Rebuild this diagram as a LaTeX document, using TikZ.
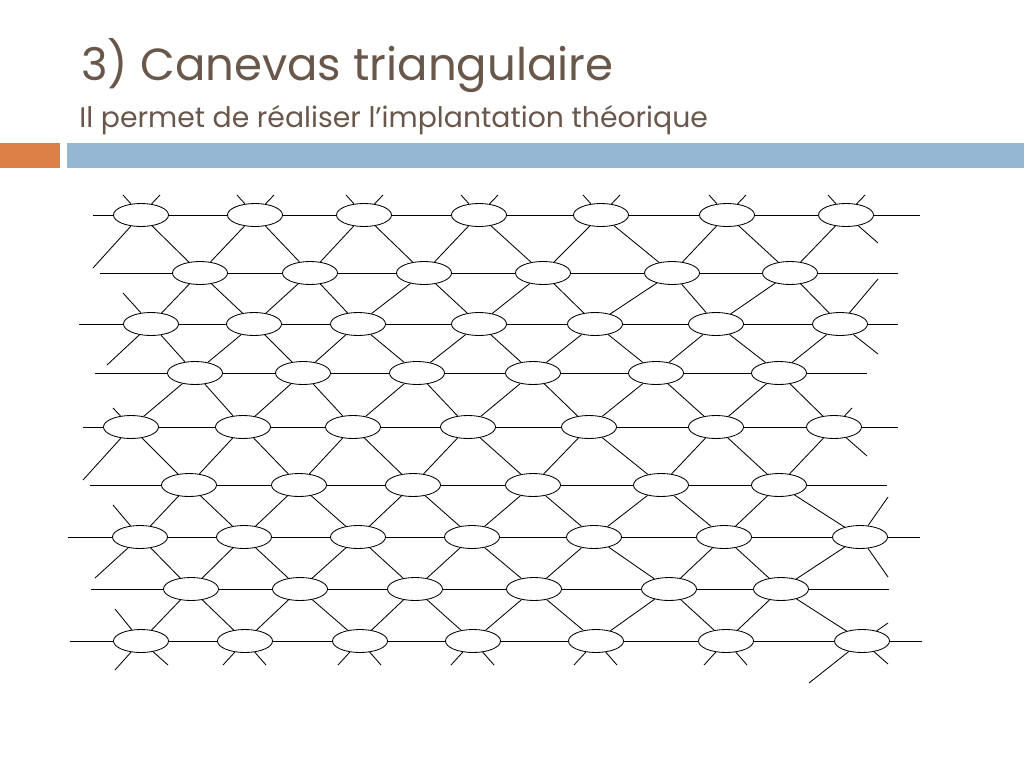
\documentclass[tikz,border=0pt]{standalone}
\usepackage{fontspec}
\setmainfont{Poppins}
\usepackage{tikz}
\usetikzlibrary{shapes}
\definecolor{titlebrown}{RGB}{105,87,75}
\definecolor{barorange}{RGB}{221,128,71}
\definecolor{barblue}{RGB}{148,182,210}

\begin{document}
\begin{tikzpicture}[x=1pt, y=-1pt, line width=0.85pt, main node/.style={ellipse, draw, fill=white, minimum width=55pt, minimum height=23pt, inner sep=0pt}]
\useasboundingbox (0,0) rectangle (1024,768);
% titre
\node[anchor=base west, inner sep=0pt, text=titlebrown, font=\fontsize{45}{50}\selectfont] (title) at (81,80) {3) Canevas triangulaire};
\node[anchor=base west, inner sep=0pt, text=titlebrown, font=\fontsize{28.3}{32}\selectfont] (subtitle) at (79,127) {Il permet de réaliser l’implantation théorique};
\fill[barorange] (0,143) rectangle (60,168);
\fill[barblue] (67,143) rectangle (1024,168);
% ligne 1
\node[main node] (11) at (141,215) {};
\node[main node] (12) at (255,215) {};
\node[main node] (13) at (364,215) {};
\node[main node] (14) at (479,215) {};
\node[main node] (15) at (601,215) {};
\node[main node] (16) at (727,215) {};
\node[main node] (17) at (846,215) {};
% ligne 2
\node[main node] (21) at (200,273) {};
\node[main node] (22) at (310,273) {};
\node[main node] (23) at (424,273) {};
\node[main node] (24) at (543,273) {};
\node[main node] (25) at (672,273) {};
\node[main node] (26) at (790,273) {};
% ligne 3
\node[main node] (31) at (151,324) {};
\node[main node] (32) at (254,324) {};
\node[main node] (33) at (358,324) {};
\node[main node] (34) at (479,324) {};
\node[main node] (35) at (595,324) {};
\node[main node] (36) at (716,324) {};
\node[main node] (37) at (840,324) {};
% ligne 4
\node[main node] (41) at (195,373) {};
\node[main node] (42) at (303,373) {};
\node[main node] (43) at (417,373) {};
\node[main node] (44) at (533,373) {};
\node[main node] (45) at (656,373) {};
\node[main node] (46) at (779,373) {};
% ligne 5
\node[main node] (51) at (131,427) {};
\node[main node] (52) at (243,427) {};
\node[main node] (53) at (353,427) {};
\node[main node] (54) at (468,427) {};
\node[main node] (55) at (589,427) {};
\node[main node] (56) at (716,427) {};
\node[main node] (57) at (834,427) {};
% ligne 6
\node[main node] (61) at (189,485) {};
\node[main node] (62) at (299,485) {};
\node[main node] (63) at (413,485) {};
\node[main node] (64) at (533,485) {};
\node[main node] (65) at (661,485) {};
\node[main node] (66) at (779,485) {};
% ligne 7
\node[main node] (71) at (140,537) {};
\node[main node] (72) at (244,537) {};
\node[main node] (73) at (358,537) {};
\node[main node] (74) at (472,537) {};
\node[main node] (75) at (594,537) {};
\node[main node] (76) at (724,537) {};
\node[main node] (77) at (860,537) {};
% ligne 8
\node[main node] (81) at (191,589) {};
\node[main node] (82) at (300,589) {};
\node[main node] (83) at (415,589) {};
\node[main node] (84) at (534,589) {};
\node[main node] (85) at (669,589) {};
\node[main node] (86) at (781,589) {};
% ligne 9
\node[main node] (91) at (141,641) {};
\node[main node] (92) at (245,641) {};
\node[main node] (93) at (360,641) {};
\node[main node] (94) at (473,641) {};
\node[main node] (95) at (596,641) {};
\node[main node] (96) at (726,641) {};
\node[main node] (97) at (862,641) {};
% bouts des lignes
\coordinate (l1) at (93,215);  \coordinate (r1) at (920,215);
\coordinate (l2) at (100,273); \coordinate (r2) at (898,273);
\coordinate (l3) at (79,324);  \coordinate (r3) at (898,324);
\coordinate (l4) at (95,373);  \coordinate (r4) at (867,373);
\coordinate (l5) at (83,427);  \coordinate (r5) at (898,427);
\coordinate (l6) at (90,485);  \coordinate (r6) at (887,485);
\coordinate (l7) at (68,537);  \coordinate (r7) at (920,537);
\coordinate (l8) at (91,589);  \coordinate (r8) at (889,589);
\coordinate (l9) at (70,641);  \coordinate (r9) at (922,641);
\draw (l1) -- (11) -- (12) -- (13) -- (14) -- (15) -- (16) -- (17) -- (r1);
\draw (l2) -- (21) -- (22) -- (23) -- (24) -- (25) -- (26) -- (r2);
\draw (l3) -- (31) -- (32) -- (33) -- (34) -- (35) -- (36) -- (37) -- (r3);
\draw (l4) -- (41) -- (42) -- (43) -- (44) -- (45) -- (46) -- (r4);
\draw (l5) -- (51) -- (52) -- (53) -- (54) -- (55) -- (56) -- (57) -- (r5);
\draw (l6) -- (61) -- (62) -- (63) -- (64) -- (65) -- (66) -- (r6);
\draw (l7) -- (71) -- (72) -- (73) -- (74) -- (75) -- (76) -- (77) -- (r7);
\draw (l8) -- (81) -- (82) -- (83) -- (84) -- (85) -- (86) -- (r8);
\draw (l9) -- (91) -- (92) -- (93) -- (94) -- (95) -- (96) -- (97) -- (r9);
% diagonales
\foreach \e/\u/\d in {2/1/3,4/3/5,6/5/7,8/7/9}
  \foreach \j/\m in {1/2,2/3,3/4,4/5,5/6,6/7}
    \path (\e\j) edge (\u\j) edge (\u\m) edge (\d\j) edge (\d\m);
% petits bouts en haut et en bas
\foreach \n in {11,...,17}
  \path (\n.center) ++(-18,-20) coordinate (ul\n) ++(37,0) coordinate (ur\n)
    (\n) edge (ul\n) edge (ur\n);
\foreach \n in {92,...,96}
  \path (\n.center) ++(-22,24) coordinate (dl\n) ++(43,0) coordinate (dr\n)
    (\n) edge (dl\n) edge (dr\n);
\coordinate (dl11) at (93,268);
\coordinate (dr17) at (878,243);
\coordinate (ul31) at (123,293);  \coordinate (dl31) at (107,365);
\coordinate (ur37) at (878,279);  \coordinate (dr37) at (878,354);
\coordinate (ul51) at (113,408);  \coordinate (dl51) at (83,480);
\coordinate (ur57) at (852,408);  \coordinate (dr57) at (867,456);
\coordinate (ul71) at (113,505);  \coordinate (dl71) at (95,578);
\coordinate (ur77) at (888,497);  \coordinate (dr77) at (888,577);
\coordinate (ul91) at (115,609);  \coordinate (dl91) at (115,670); \coordinate (dr91) at (168,665);
\coordinate (ur97) at (888,623);  \coordinate (dl97) at (809,683); \coordinate (dr97) at (888,664);
\path
(11) edge (dl11)
(17) edge (dr17)
(31) edge (ul31) edge (dl31)
(37) edge (ur37) edge (dr37)
(51) edge (ul51) edge (dl51)
(57) edge (ur57) edge (dr57)
(71) edge (ul71) edge (dl71)
(77) edge (ur77) edge (dr77)
(91) edge (ul91) edge (dl91) edge (dr91)
(97) edge (ur97) edge (dl97) edge (dr97);
\end{tikzpicture}
\end{document}
